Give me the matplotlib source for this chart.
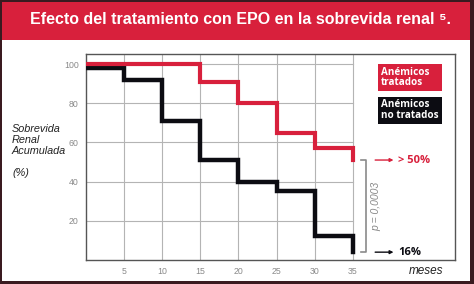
import matplotlib
matplotlib.use("Agg")
import matplotlib.pyplot as plt
from matplotlib.patches import Rectangle

# ── Data ─────────────────────────────────────────────────────────────────────
months_treated = [0, 15, 20, 25, 30, 35]
surv_treated = [100, 91, 80, 65, 57, 51]
months_untreated = [0, 5, 10, 15, 20, 25, 30, 35]
surv_untreated = [98, 92, 71, 51, 40, 35, 12, 4]
x_ticks = [5, 10, 15, 20, 25, 30, 35]
y_ticks = [20, 40, 60, 80, 100]
legend_labels = ["Anémicos\ntratados", "Anémicos\nno tratados"]
end_labels = ["> 50%", "16%"]
p_label = "p = 0,0003"

RED = "#d8203c"
BLACK = "#0c0c12"
FRAME = "#3a1a20"
GRID = "#b4b4b4"
SANS = ["Liberation Sans", "DejaVu Sans"]
HUMAN = ["Open Sans", "DejaVu Sans"]

W, H = 474, 284
fig = plt.figure(figsize=(W / 100, H / 100), dpi=100, facecolor=FRAME)

def fx(px):
    return px / W

def fy(py):
    return 1 - py / H

# background panels
fig.add_artist(Rectangle((fx(2), fy(281)), fx(468), 279 / H, transform=fig.transFigure,
                         facecolor="white", edgecolor="none", zorder=0))
fig.add_artist(Rectangle((fx(2), fy(40)), fx(468), 38 / H, transform=fig.transFigure,
                         facecolor=RED, edgecolor="none", zorder=0))
fig.text(fx(240), fy(20), "Efecto del tratamiento con EPO en la sobrevida renal ⁵.",
         color="white", fontsize=11.5, fontweight="bold", family=SANS,
         ha="center", va="center")

# ── Main axes ────────────────────────────────────────────────────────────────
x0, x1, y0, y1 = 85.6, 455, 54, 260
ax = fig.add_axes([fx(x0), fy(y1), (x1 - x0) / W, (y1 - y0) / H])
ax.set_facecolor("white")
ax.set_xlim(0, (x1 - x0) / 7.64)
ax.set_ylim(0, (y1 - y0) / 1.96)
for s in ax.spines.values():
    s.set_color("#555555")
    s.set_linewidth(1.0)

for yv in y_ticks:
    ax.plot([0, 35], [yv, yv], color=GRID, lw=0.8, zorder=1)
for xv in x_ticks:
    ax.axvline(xv, color=GRID, lw=0.8, zorder=1)

ax.set_xticks(x_ticks)
ax.set_yticks(y_ticks)
ax.tick_params(length=0, labelsize=6.3, labelcolor="#8a8a8a", pad=5)
for lab in ax.get_xticklabels() + ax.get_yticklabels():
    lab.set_family(SANS)

ax.step(months_untreated, surv_untreated, where="post", color=BLACK, lw=3.2,
        solid_joinstyle="miter", zorder=3)
ax.step(months_treated, surv_treated, where="post", color=RED, lw=3.0,
        solid_joinstyle="miter", zorder=4)

# bracket with p value
bx = 36.7
ax.plot([36.05, bx, bx, 36.05], [surv_treated[-1], surv_treated[-1],
        surv_untreated[-1], surv_untreated[-1]], color="#8a8a8a", lw=1.2,
        clip_on=False, zorder=5)
ax.text(38.0, (surv_treated[-1] + surv_untreated[-1]) / 2, p_label, rotation=90,
        color="#8a8a8a", fontsize=7.5, style="italic", family=SANS,
        ha="center", va="center")

# end arrows and labels
for yv, col, lab in [(surv_treated[-1], RED, end_labels[0]),
                     (surv_untreated[-1], BLACK, end_labels[1])]:
    ax.annotate("", xy=(40.3, yv), xytext=(37.9, yv),
                arrowprops=dict(arrowstyle="-|>", color=col, lw=1.0,
                                mutation_scale=5, shrinkA=0, shrinkB=0),
                annotation_clip=False)
    ax.text(40.9, yv, lab, color=col, fontsize=8, fontweight="bold",
            family=HUMAN, ha="left", va="center")

# legend boxes
for (top, bot), col, lab in [((64.3, 91), RED, legend_labels[0]),
                             ((96.7, 123.7), BLACK, legend_labels[1])]:
    fig.add_artist(Rectangle((fx(377.7), fy(bot)), (442 - 377.7) / W, (bot - top) / H,
                             transform=fig.transFigure, facecolor=col,
                             edgecolor="none", zorder=5))
    fig.text(fx(381), fy((top + bot) / 2), lab, color="white", fontsize=7.1,
             fontweight="bold", family=HUMAN, ha="left", va="center",
             linespacing=0.95, zorder=6)

# axis texts
fig.text(fx(426), fy(271), "meses", color="#222222", fontsize=8.5, style="italic",
         family=SANS, ha="center", va="center")
fig.text(fx(12), fy(140), "Sobrevida\nRenal\nAcumulada", color="#222222",
         fontsize=7.8, style="italic", family=SANS,
         ha="left", va="center", linespacing=1.15)
fig.text(fx(12), fy(173), "(%)", color="#222222", fontsize=7.8, style="italic",
         family=SANS, ha="left", va="center")

fig.savefig("out.png", dpi=100, facecolor=FRAME)
